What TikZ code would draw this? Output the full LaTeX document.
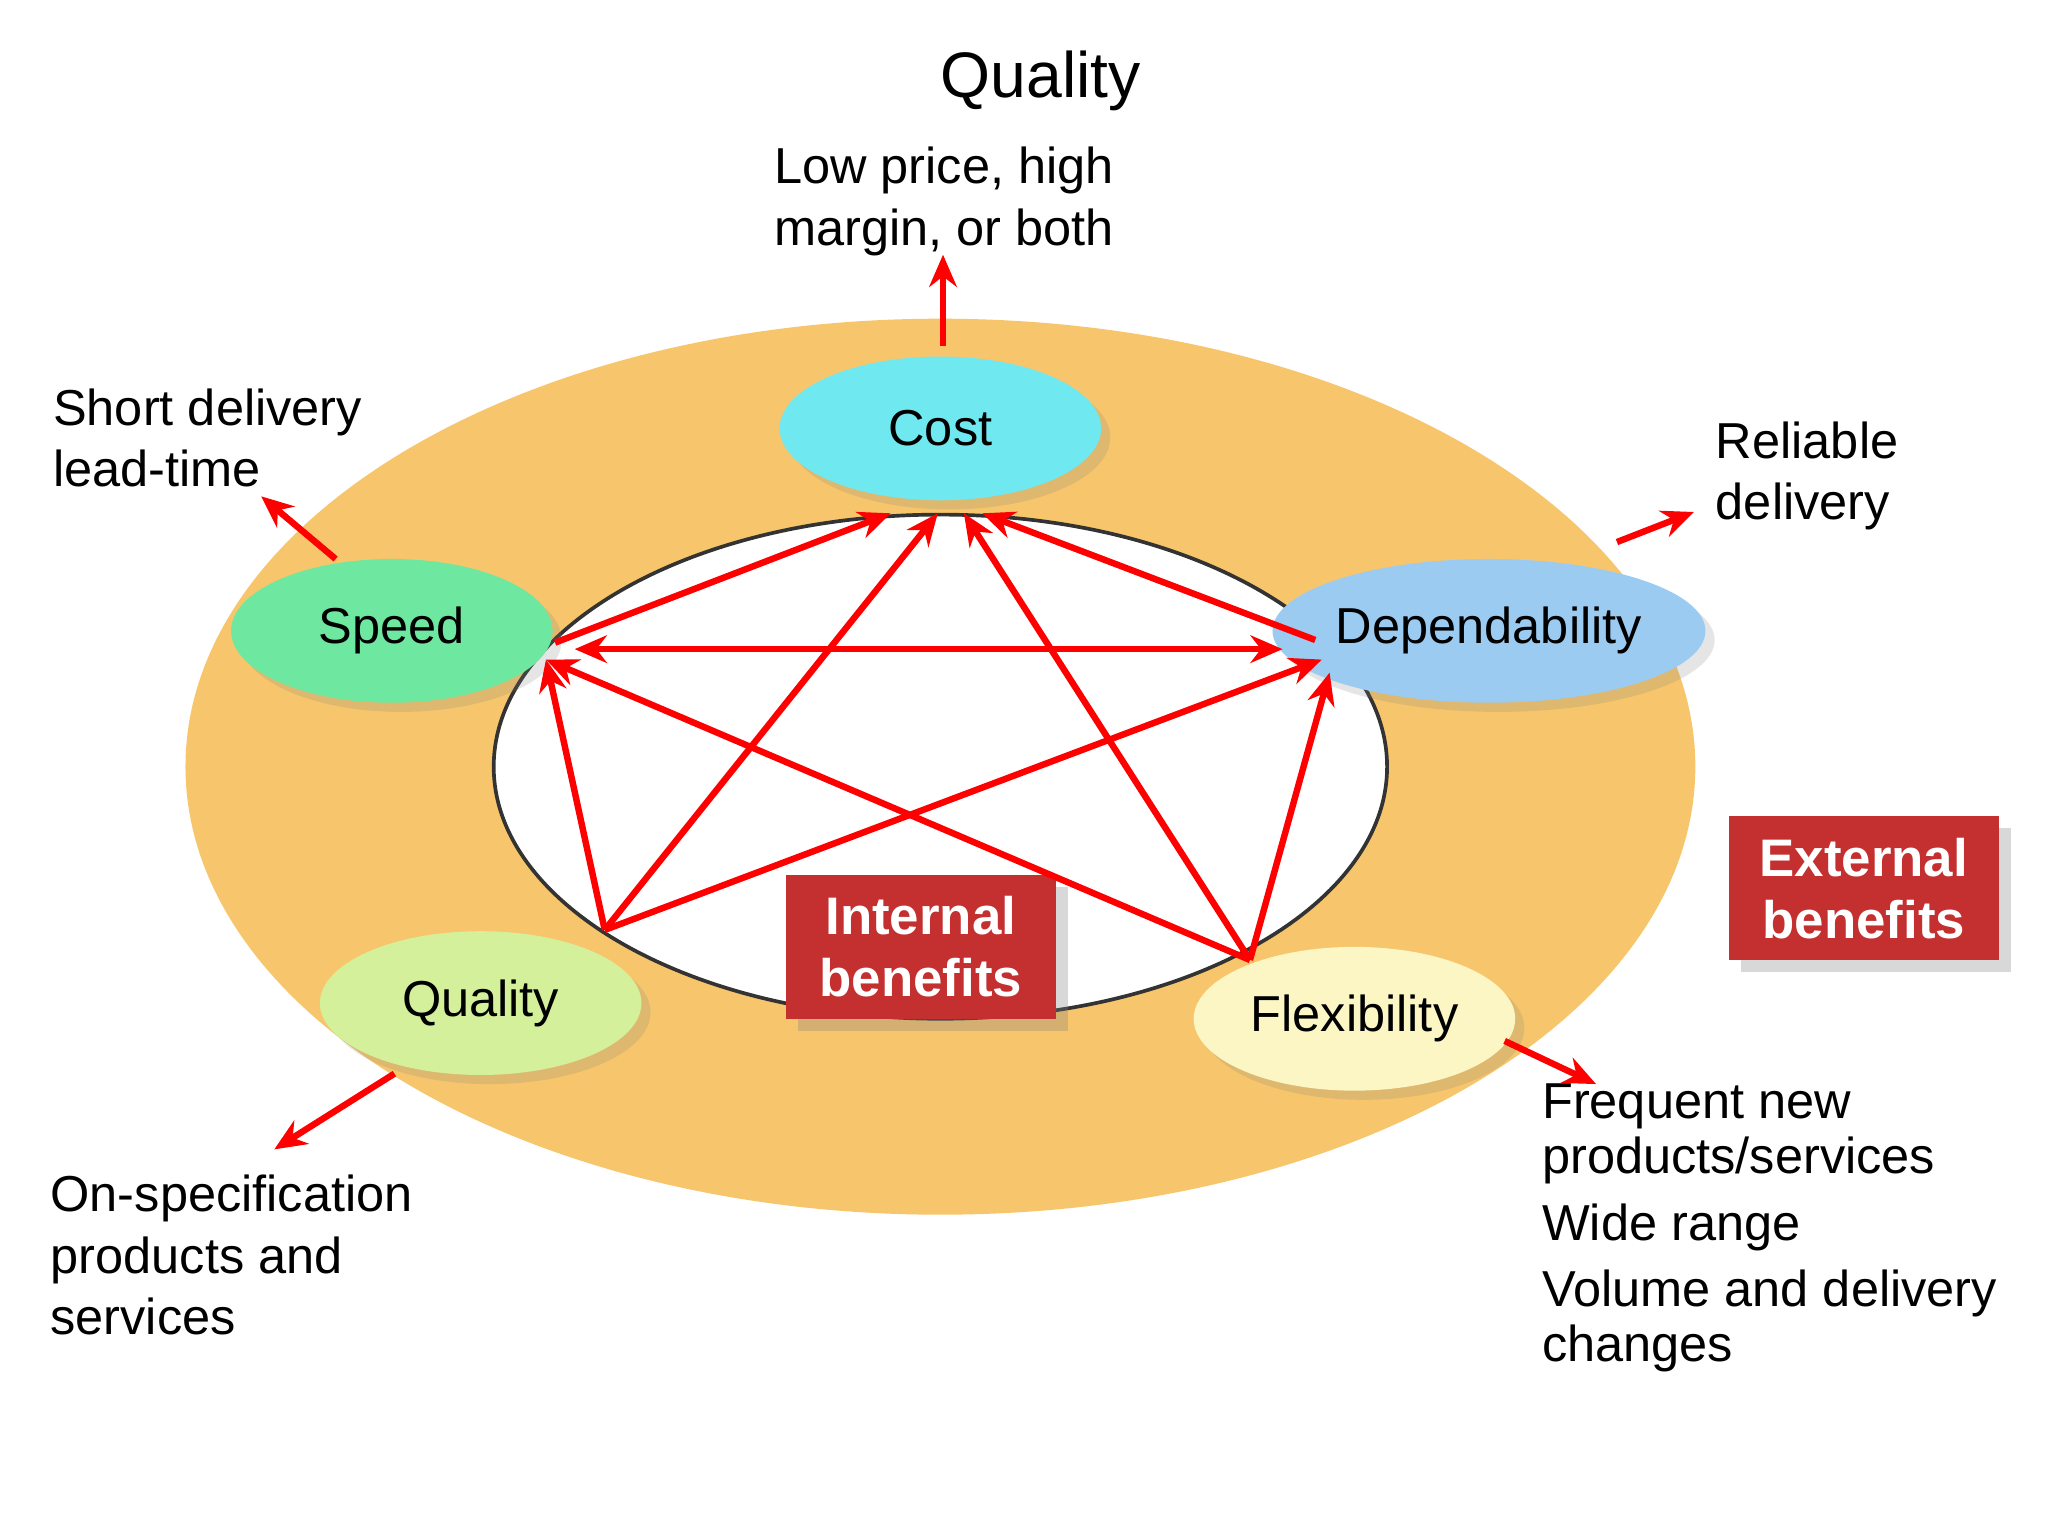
\documentclass[tikz,border=0pt]{standalone}
\usepackage{fontspec}
\setmainfont{Liberation Sans}
\usetikzlibrary{shapes.geometric,arrows.meta,shadows}
\definecolor{ring}{HTML}{F7C66C}
\definecolor{costc}{HTML}{6FE8F0}
\definecolor{speedc}{HTML}{6EE8A0}
\definecolor{depc}{HTML}{9CCBF2}
\definecolor{qualc}{HTML}{D4F09A}
\definecolor{flexc}{HTML}{FBF6C4}
\definecolor{boxc}{HTML}{C43030}
\begin{document}
\begin{tikzpicture}[x=0.01cm,y=-0.01cm,
  txt/.style={font=\fontsize{11}{13.4}\selectfont,align=left,inner sep=0pt},
  oval/.style={ellipse,minimum width=2.46cm,minimum height=1.1cm,inner sep=0pt,font=\fontsize{11}{13}\selectfont,drop shadow={shadow xshift=2pt,shadow yshift=-2pt,opacity=0.2}},
  redbox/.style={rectangle,fill=boxc,text=white,font=\fontsize{11.5}{13.5}\selectfont\bfseries,align=center,minimum width=2.07cm,minimum height=1.1cm,drop shadow={opacity=0.3}},
  rarr/.style={draw=red,line width=1.4pt,-{Stealth[length=7pt,width=6pt]}},
  rarr2/.style={draw=red,line width=1.4pt,{Stealth[length=7pt,width=6pt]}-{Stealth[length=7pt,width=6pt]}}]
\useasboundingbox (0,0) rectangle (1568,1176);
\fill[white] (0,0) rectangle (1568,1176);
\node (title) at (797,62) {\fontsize{14}{16}\selectfont Quality};
\fill[ring] (720,587) ellipse [x radius=578, y radius=343];
\draw[fill=white,line width=0.8pt,draw=black!80] (720,587) ellipse [x radius=342, y radius=193];
\node[oval,fill=costc] (cost) at (720,328) {Cost};
\node[oval,fill=speedc] (speed) at (300,483) {Speed};
\node[oval,fill=depc,minimum width=2.6cm] (dep) at (1140,483) {Dependability};
\node[oval,fill=qualc] (qual) at (368,768) {Quality};
\node[oval,fill=flexc] (flex) at (1037,780) {Flexibility};
\node[redbox] (ib) at (705,725) {Internal\\benefits};
\node[redbox] (eb) at (1427,680) {External\\benefits};
\coordinate (vc1) at (682,393); \coordinate (vc2) at (718,393);
\coordinate (vc3) at (738,393); \coordinate (vc4) at (752,393);
\coordinate (vs) at (425,492); \coordinate (vs2) at (418,505);
\coordinate (vd) at (1007,490); \coordinate (vd2) at (1012,505); \coordinate (vd3) at (1018,515);
\coordinate (vq) at (463,712); \coordinate (vf) at (957,735);
\coordinate (hl) at (440,497); \coordinate (hr) at (982,497);
\draw[rarr] (vs) -- (vc1);
\draw[rarr] (vd) -- (vc4);
\draw[rarr2] (hl) -- (hr);
\draw[rarr] (vq) -- (vc2);
\draw[rarr] (vf) -- (vc3);
\draw[rarr] (vq) -- (vs2);
\draw[rarr] (vq) -- (vd2);
\draw[rarr] (vf) -- (vs2);
\draw[rarr] (vf) -- (vd3);
\node[txt,anchor=north west] (tcost) at (592,112) {Low price, high\\margin, or both};
\node[txt,anchor=north west] (tspeed) at (40,297) {Short delivery\\lead-time};
\node[txt,anchor=north west] (tdep) at (1313,322) {Reliable\\delivery};
\node[txt,anchor=north west] (tqual) at (38,899) {On-specification\\products and\\services};
\node[txt,anchor=north west,font=\fontsize{11}{12}\selectfont] (tflex) at (1180,829) {Frequent new\\products/services\\[2.5pt]Wide range\\[2.5pt]Volume and delivery\\changes};
\coordinate (a1) at (722,265); \coordinate (b1) at (722,195);
\coordinate (a2) at (257,428); \coordinate (b2) at (200,380);
\coordinate (a3) at (1238,415); \coordinate (b3) at (1297,392);
\coordinate (a4) at (302,822); \coordinate (b4) at (210,880);
\coordinate (a5) at (1152,797); \coordinate (b5) at (1222,830);
\foreach \i in {1,...,5} {\draw[rarr] (a\i) -- (b\i);}
\end{tikzpicture}
\end{document}
